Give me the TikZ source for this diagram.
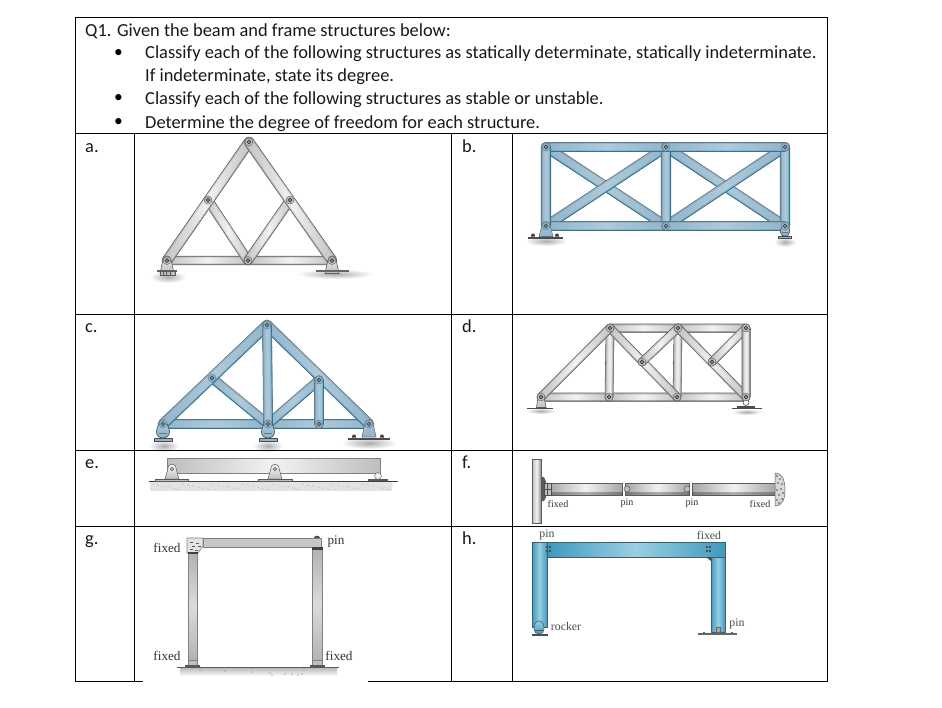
\documentclass[tikz,border=0pt]{standalone}
\usepackage{fontspec}
\setmainfont{Carlito}
\newfontfamily\lab{Liberation Serif}
\definecolor{gE}{HTML}{BEBEBE}\definecolor{gM}{HTML}{F2F2F2}\definecolor{gD}{HTML}{5A5A5A}\definecolor{gS}{HTML}{808080}
\definecolor{fE}{HTML}{A6A6A6}
\definecolor{bE}{HTML}{8FB3C9}\definecolor{bM}{HTML}{AECADB}\definecolor{bD}{HTML}{66787F}\definecolor{bS}{HTML}{1F7C9E}
\definecolor{hE}{HTML}{3E9AC0}\definecolor{hM}{HTML}{9ACFE3}\definecolor{hD}{HTML}{4A5A62}\definecolor{hS}{HTML}{2B6F8C}
\makeatletter
\newcommand\mbar[4]{%
  \pgfpointdiff{\pgfpointanchor{#1}{center}}{\pgfpointanchor{#2}{center}}%
  \pgfmathsetmacro\mdx{\pgf@x}\pgfmathsetmacro\mdy{\pgf@y}%
  \pgfmathsetmacro\mang{atan2(\mdy,\mdx)}\pgfmathsetmacro\mlen{veclen(\mdx,\mdy)}%
  \pgfmathsetmacro\mhw{#3/2}%
  \begin{scope}[shift={(#1)},rotate=\mang,x=1pt,y=1pt]
    \shadedraw[rounded corners=\mhw pt-0.02pt,left color=#4E,right color=#4E,middle color=#4M,draw=#4D,line width=.55pt]
      (-\mhw,-\mhw) rectangle (\mlen+\mhw,\mhw);
    \fill[black,opacity=.09] (0,\mhw-1.5) rectangle (\mlen,\mhw);
    \fill[black,opacity=.09] (0,-\mhw+1.5) rectangle (\mlen,-\mhw);
    \draw[#4S,line width=.7pt] (0,-\mhw) -- (\mlen,-\mhw);
  \end{scope}}
\makeatother
\newcommand\jpin[2]{% joint: coordinate, colour set
  \fill[#2E,draw=#2D,line width=.4pt] (#1) circle[radius=4pt];
  \fill[#2E!55!gray,draw=#2D!60!black,line width=.6pt] (#1) circle[radius=1.9pt];}
\newcommand\rockr[3]{% coordinate, scale, colour set
  \begin{scope}[shift={(#1)},scale=#2]
    \shade[top color=#3M,bottom color=#3E,draw=#3D!70!black,line width=.7pt] (0,-4) .. controls (3,-4) and (6.5,4) .. (6.5,8)
      .. controls (6.5,12) and (3,14) .. (0,14) .. controls (-3,14) and (-6.5,12) .. (-6.5,8)
      .. controls (-6.5,4) and (-3,-4) .. (0,-4) -- cycle;
    \draw[#3D,line width=.5pt] (-4,9) -- (4,9);
    \fill[#3E,draw=black!70,line width=.6pt] (-9,14.5) rectangle (9,17);
  \end{scope}}
\newcommand\gusset[2]{% coordinate, colour set
  \begin{scope}[shift={(#1)}]
    \shade[top color=#2M,bottom color=#2E,draw=#2D,line width=.6pt] (-7,13) -- (-4.2,0) .. controls (-3.8,-6) and (3.8,-6) .. (4.2,0) -- (7,13) -- cycle;
  \end{scope}}
\newcommand\gnd[4]{\shade[inner color=gray!65,outer color=white] (#1,#2) ellipse[x radius=#3pt,y radius=#4pt];}
\newcommand\bolt[2]{\fill[black!75] (#1-2.2,#2) -- (#1-1.2,#2-3) -- (#1+1.2,#2-3) -- (#1+2.2,#2) -- cycle;}
\tikzset{
  grid line/.style={black,line width=.9pt},
  body/.style={anchor=base west,inner sep=0pt,font=\fontsize{18.4}{20}\selectfont,text=black!90},
  bul/.style={anchor=center,inner sep=0pt,font=\fontsize{17.5}{18}\selectfont},
  ftag/.style={anchor=center,inner sep=0pt,font=\lab\fontsize{10}{11}\selectfont,text=black!80},
  gtag/.style={anchor=center,inner sep=0pt,font=\lab\fontsize{13.2}{14}\selectfont,text=black!80},
  htag/.style={anchor=center,inner sep=0pt,font=\lab\fontsize{11.8}{13}\selectfont,text=black!70},
  fbeam/.style={left color=fE,right color=fE,middle color=gM,draw=gD,line width=.5pt},
  hbeam/.style={left color=hE,right color=hE,middle color=hM,draw=hD,line width=.6pt},
  gcol/.style={bottom color=black!30,top color=black!30,middle color=black!14,draw=gS,line width=.6pt},
}
\begin{document}
\begin{tikzpicture}[x=1pt,y=-1pt]
\useasboundingbox (0,0) rectangle (942,707);
\fill[white] (0,0) rectangle (942,707);

% ------ a
\coordinate (a1) at (249,142);\coordinate (a2) at (208,200);\coordinate (a3) at (290,200);
\coordinate (a4) at (248,260.5);\coordinate (a5) at (167,260.5);\coordinate (a6) at (332,260.5);
\gnd{168}{277}{18}{6}\gnd{335}{274}{38}{5}
\mbar{a5}{a4}{8.5}{g}\mbar{a4}{a6}{8.5}{g}
\mbar{a2}{a4}{9}{g}\mbar{a4}{a3}{9}{g}
\mbar{a5}{a1}{10}{g}\mbar{a1}{a6}{10}{g}
\gusset{a5}{g}\gusset{a6}{g}
\fill[black!60] (157,269.5) rectangle (177,271.5);
\fill[gE,draw=gD,line width=.4pt] (160,271.5) rectangle (175,275);
\foreach \q in {163,166.5,170}{\draw[gD,line width=.4pt] (\q,271.5) -- (\q,275);}
\fill[black!60] (316,270) rectangle (349,272);
\foreach \q in {a1,a2,a3,a4,a5,a6}{\jpin{\q}{g}}

% ------ b
\coordinate (b1) at (546,147);\coordinate (b2) at (666,147);\coordinate (b3) at (785,147);
\coordinate (b4) at (546,226);\coordinate (b5) at (666,226);\coordinate (b6) at (785,226);
\gnd{546}{241}{21}{5}\gnd{785}{242}{11}{5}
\mbar{b1}{b5}{9.5}{b}\mbar{b4}{b2}{9.5}{b}
\mbar{b2}{b6}{9.5}{b}\mbar{b5}{b3}{9.5}{b}
\mbar{b5}{b2}{9.5}{b}\mbar{b6}{b3}{9.5}{b}
\mbar{b1}{b2}{9}{b}\mbar{b2}{b3}{9}{b}\mbar{b4}{b5}{9}{b}\mbar{b5}{b6}{9}{b}
\mbar{b4}{b1}{9.5}{b}
\begin{scope}[shift={(b4)}]
  \shade[top color=bM,bottom color=bE,draw=bD,line width=.6pt] (-7,10.5) -- (-4.2,0) .. controls (-3.8,-6) and (3.8,-6) .. (4.2,0) -- (7,10.5) -- cycle;
\end{scope}
\rockr{b6}{.72}{b}
\fill[black!70] (528,236.5) rectangle (563,238.5);
\bolt{533}{236.5}\bolt{557}{236.5}
\foreach \q in {b1,b2,b3,b4,b5,b6}{\jpin{\q}{b}}

% ------ c
\coordinate (c1) at (267,325);\coordinate (c2) at (163,424);\coordinate (c3) at (268,424);
\coordinate (c4) at (369,424);\coordinate (c5) at (212,378);\coordinate (c6) at (319,380);
\coordinate (c7) at (319,424);
\gnd{164}{446}{15}{6}\gnd{268}{446}{15}{6}\gnd{369}{443}{28}{6}
\mbar{c2}{c3}{9}{b}\mbar{c3}{c4}{9}{b}
\mbar{c5}{c3}{9}{b}\mbar{c3}{c6}{9}{b}
\mbar{c2}{c1}{10}{b}\mbar{c1}{c4}{10}{b}
\mbar{c3}{c1}{9}{b}
\mbar{c7}{c6}{9}{b}
\rockr{c2}{1}{b}\rockr{c3}{1}{b}\gusset{c4}{b}
\fill[black!70] (348,437.5) rectangle (390,439.5);
\bolt{354}{437.5}\bolt{382}{437.5}
\foreach \q in {c1,c2,c3,c4,c5,c6,c7}{\jpin{\q}{b}}

% ------ d
\coordinate (d1) at (541,397);\coordinate (d2) at (609,397);\coordinate (d3) at (677,397);
\coordinate (d4) at (746,397);\coordinate (d5) at (610,328);\coordinate (d6) at (678,328);
\coordinate (d7) at (746,328);\coordinate (d8) at (642,362);\coordinate (d9) at (712,362);
\gnd{541}{411}{15}{3}\gnd{747}{412}{15}{3}
\mbar{d1}{d2}{8}{g}\mbar{d2}{d3}{8}{g}\mbar{d3}{d4}{8}{g}
\mbar{d5}{d6}{8}{g}\mbar{d6}{d7}{8}{g}
\mbar{d2}{d5}{8}{g}\mbar{d3}{d6}{8}{g}
\mbar{d5}{d3}{8}{g}\mbar{d8}{d6}{8}{g}
\mbar{d6}{d4}{8}{g}\mbar{d9}{d7}{8}{g}
\mbar{d1}{d5}{8}{g}\mbar{d4}{d7}{8}{g}
\begin{scope}[shift={(d1)}]
  \shade[top color=gM,bottom color=gE,draw=gD,line width=.6pt] (-4.5,10.5) -- (-3,0) .. controls (-2.5,-4.5) and (2.5,-4.5) .. (3,0) -- (5,10.5) -- cycle;
\end{scope}
\draw[black!70,line width=.8pt] (527,408) -- (553,408);
\fill[white,draw=black!70,line width=.6pt] (746,402.5) circle[radius=3pt];
\fill[black!70] (737,405.5) rectangle (755,407.5);
\draw[black!70,line width=.8pt] (732,408.5) -- (762,408.5);
\foreach \q in {d1,d2,d3,d4,d5,d6,d7,d8,d9}{\jpin{\q}{g}}

% ------ e
\fill[black!11] (150,481) rectangle (392,491);
\foreach \i in {0,...,47}{\fill[black!45] ({153+5*\i},{484+mod(\i*7,6)}) circle[radius=.5pt];
  \fill[black!35] ({155+5*\i},{489-mod(\i*5,4)}) circle[radius=.45pt];}
\shade[left color=gE,right color=gE,middle color=gM,draw=gS,line width=.7pt] (167,458) rectangle (380,473);
\draw[black!75,line width=.7pt] (149,481) -- (398,481);
\coordinate (e1) at (172,469);\coordinate (e2) at (275,469);
\begin{scope}[shift={(e1)}]
\shade[top color=white,bottom color=gE,draw=gD,line width=.5pt] (-7,10) -- (-4.2,0) .. controls (-3.8,-6.5) and (3.8,-6.5) .. (4.2,0) -- (7,10) -- cycle;
\end{scope}
\begin{scope}[shift={(e2)}]
\shade[top color=white,bottom color=gE,draw=gD,line width=.5pt] (-7,10) -- (-4.2,0) .. controls (-3.8,-6.5) and (3.8,-6.5) .. (4.2,0) -- (7,10) -- cycle;
\end{scope}
\fill[gE,draw=gD,line width=.4pt] (155,479) rectangle (188,481);
\fill[gE,draw=gD,line width=.4pt] (258,479) rectangle (292,481);
\fill[gD] (368,479) rectangle (388,481);
\fill[gM,draw=gD,line width=.4pt] (378,476) circle[radius=3.4pt];
\fill[gE,draw=gD,line width=.5pt] (e1) circle[radius=1.7pt];
\fill[gE,draw=gD,line width=.5pt] (e2) circle[radius=1.7pt];

% ------ f
\shade[left color=gE,right color=gS,middle color=gM,draw=gD,line width=.7pt] (532,459) rectangle (541.5,523);
\coordinate (f1) at (548,489);\coordinate (f2) at (627,489);\coordinate (f3) at (687,489);\coordinate (f4) at (775,489);
\shade[fbeam] (548,483) rectangle (622.5,495);
\shade[fbeam] (625.5,483) rectangle (689.5,495);
\shade[fbeam] (692,483) rectangle (775,495);
\fill[black,opacity=.28] (548,492) rectangle (622.5,495);
\fill[black,opacity=.28] (625.5,492) rectangle (689.5,495);
\fill[black,opacity=.28] (692,492) rectangle (775,495);
\fill[gE,draw=gD,line width=.5pt] (f2) circle[radius=3pt];
\fill[gE,draw=gD,line width=.5pt] (f3) circle[radius=3pt];
\fill[black!65] (541.5,477) -- (544,477) -- (546,482) -- (546,497) -- (544,501) -- (541.5,501) -- cycle;
\fill[gE,draw=black!70,line width=.5pt] (544,483) rectangle (551,495);
\draw[black!70,line width=.4pt] (547.5,483) -- (547.5,495) (544,489) -- (551,489);
\fill[gE!60,draw=gD,line width=.5pt] (775,473) .. controls (783,473) and (785,482) .. (785,490) .. controls (785,498) and (783,506) .. (775,506) -- cycle;
\foreach \i/\j in {777/476,780/479,782/484,778/483,781/489,777/490,783/493,779/495,782/499,777/500,779/503}{\fill[black!70] (\i,\j) circle[radius=.8pt];}
\node[ftag] (ft1) at (558,504) {fixed};
\node[ftag] (ft2) at (627,503) {pin};
\node[ftag] (ft3) at (692,503) {pin};
\node[ftag] (ft4) at (760,504) {fixed};

% ------ g
\shade[top color=black!30,bottom color=white] (180,667) rectangle (337,676);
\foreach \i/\j in {200/670,225/671,251/668,252/672,270/673,272/675,285/674,292/674,298/675,302/674,304/669}{\fill[black!55] (\i,\j) circle[radius=.7pt];}
\shade[gcol] (188,553) rectangle (197,660);
\shade[gcol] (312,549) rectangle (322,660);
\fill[black!22,draw=gS,line width=.6pt] (203,538) rectangle (321,547);
\fill[black!75] (311.5,547) rectangle (322.5,549.5);
\fill[black!70] (314,538) .. controls (314,534.5) and (320,534.5) .. (320,538) -- cycle;
\fill[black!10,draw=gS,line width=.6pt] (187,538) -- (203,538) -- (203,546) -- (198,553) -- (187,553) -- cycle;
\foreach \i/\j in {190/542,196/543,192/546,198/546,190/549,195/550}{\draw[black!65,line width=.5pt] (\i,\j) -- ++(3,0);}
\fill[black!75] (187.5,552) rectangle (197.5,554);
\fill[black!25,draw=gS,line width=.5pt] (188,660) rectangle (197,665);
\fill[black!25,draw=gS,line width=.5pt] (312,660) rectangle (322,665);
\fill[black!65] (185,665) rectangle (200,666.5);
\fill[black!65] (310,665) rectangle (325,666.5);
\draw[black!65,line width=.7pt] (177,667) -- (339,667);
\node[gtag] (gt1) at (167,548) {fixed};
\node[gtag] (gt2) at (336,542) {pin};
\node[gtag] (gt3) at (167,656) {fixed};
\node[gtag] (gt4) at (339,656) {fixed};

% ------ h
\shade[hbeam] (532,542) rectangle (547,627);
\shade[hbeam] (711,557) rectangle (725,632);
\shade[hbeam] (547,542) rectangle (725,557);
\draw[hD,line width=.8pt] (547,557) -- (725,557);
\fill[black!70] (706,557) -- (711,557) -- (711,561) -- cycle;
\foreach \q in {545.5,548.5,705.5,708.5}{\fill[black!70] (\q,546) rectangle ++(2,2.4);\fill[black!70] (\q,550) rectangle ++(2,2.4);}
\coordinate (h1) at (539,627);
\shade[top color=hM,bottom color=hE,draw=hD,line width=.6pt] (539,621) .. controls (543,621) and (544,626) .. (544,629) .. controls (544,632) and (542,634) .. (539,634) .. controls (536,634) and (534,632) .. (534,629) .. controls (534,626) and (535,621) .. (539,621) -- cycle;
\draw[hD,line width=.4pt] (535,630) -- (543,630);
\fill[black!70] (531.5,634) rectangle (548,635.5);
\fill[black!60] (698,632.5) rectangle (737,635);
\fill[black!35,draw=black!60,line width=.3pt] (716,627) rectangle (720,632.5);
\fill[black!60] (703,631.5) rectangle (705,632.5);\fill[black!60] (731,631.5) rectangle (733,632.5);
\node[htag] (ht1) at (547,535) {pin};
\node[htag] (ht2) at (709,535) {fixed};
\node[htag] (ht3) at (566,626) {rocker};
\node[htag] (ht4) at (737,624) {pin};

% ------ table grid
\coordinate (tl) at (75,17);\coordinate (tr) at (827,17);
\coordinate (l1) at (75,133);\coordinate (r1) at (827,133);
\coordinate (l2) at (75,314);\coordinate (r2) at (827,314);
\coordinate (l3) at (75,450);\coordinate (r3) at (827,450);
\coordinate (l4) at (75,526);\coordinate (r4) at (827,526);
\coordinate (bl) at (75,681);\coordinate (br) at (827,681);
\coordinate (gapl) at (143,681);\coordinate (gapr) at (368,681);
\draw[grid line] (gapr) -- (br) -- (tr) -- (tl) -- (bl) -- (gapl);
\foreach \a/\b in {l1/r1,l2/r2,l3/r3,l4/r4}{\draw[grid line] (\a) -- (\b);}
\foreach \q in {134,451,512}{\draw[grid line] (\q,133) -- (\q,681);}

% ------ text
\node[body] (q0) at (85,36) {Q1. Given the beam and frame structures below:};
\node[body] (q1) at (145,58) {Classify each of the following structures as statically determinate, statically indeterminate.};
\node[body] (q2) at (145,81.5) {If indeterminate, state its degree.};
\node[body] (q3) at (145,104.5) {Classify each of the following structures as stable or unstable.};
\node[body] (q4) at (145,128) {Determine the degree of freedom for each structure.};
\node[bul] (p1) at (118.5,53) {•};
\node[bul] (p2) at (118.5,98.5) {•};
\node[bul] (p3) at (118.5,122.5) {•};
\node[body] (la) at (85,152) {a.};
\node[body] (lb) at (462,152) {b.};
\node[body] (lc) at (85,332) {c.};
\node[body] (ld) at (462,332) {d.};
\node[body] (le) at (85,468) {e.};
\node[body] (lf) at (462,468) {f.};
\node[body] (lg) at (85,544) {g.};
\node[body] (lh) at (462,544) {h.};
\end{tikzpicture}
\end{document}
